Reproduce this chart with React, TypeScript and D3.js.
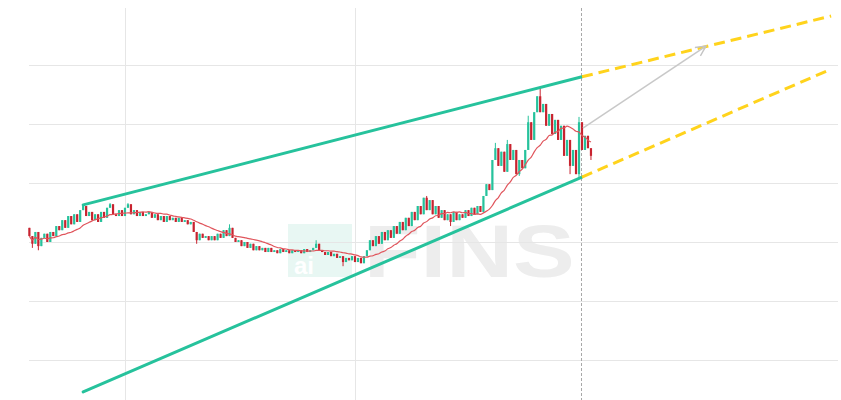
import { useEffect, useRef } from 'react';
import * as d3 from 'd3';

// closing prices, one per session (open = previous close)
const closes = [
  31.0, 29.7, 31.7, 29.3, 30.7, 31.4, 30.0, 31.7, 31.0, 32.7,
  32.0, 33.7, 32.4, 34.4, 33.0, 34.7, 33.4, 35.4, 36.1, 34.4,
  35.1, 33.7, 34.7, 33.4, 35.1, 34.1, 35.8, 36.4, 34.7, 34.4,
  35.4, 34.4, 35.8, 36.4, 34.7, 35.4, 34.4, 35.1, 34.4, 34.7,
  35.1, 34.1, 34.7, 33.7, 34.4, 33.4, 34.4, 33.7, 34.1, 33.4,
  34.1, 33.4, 33.7, 33.0, 33.4, 31.7, 30.3, 31.4, 30.7, 31.0,
  30.3, 31.0, 30.3, 31.4, 30.7, 32.0, 31.0, 32.4, 30.7, 30.0,
  30.3, 29.3, 30.0, 29.0, 29.7, 28.6, 29.3, 28.6, 29.0, 28.3,
  29.0, 28.3, 28.6, 28.1, 28.8, 28.3, 28.6, 28.1, 28.6, 28.3,
  28.6, 28.1, 28.8, 28.3, 28.6, 29.0, 29.7, 28.6, 28.3, 27.8,
  28.3, 27.6, 28.0, 27.3, 27.6, 26.6, 27.3, 26.9, 27.6, 26.6,
  27.3, 26.4, 27.6, 28.6, 30.3, 29.3, 31.0, 29.7, 31.7, 30.3,
  32.0, 30.7, 32.7, 31.4, 33.4, 32.0, 34.1, 32.7, 35.1, 33.7,
  36.1, 34.7, 37.5, 35.4, 37.1, 34.7, 36.1, 34.1, 35.4, 33.7,
  34.7, 33.4, 35.1, 33.7, 34.7, 34.1, 35.4, 34.4, 35.8, 34.7,
  36.1, 35.1, 37.8, 39.8, 38.8, 43.9, 45.9, 42.9, 45.3, 41.9,
  46.6, 43.9, 45.6, 41.5, 43.9, 42.5, 45.6, 50.3, 47.3, 52.0,
  54.7, 52.0, 53.4, 49.7, 51.7, 48.3, 50.7, 47.3, 49.7, 44.6,
  47.3, 42.9, 45.6, 41.5, 50.3, 45.6, 48.0, 45.9, 44.6,
];
const firstOpen = 32.4;

// visible wicks [session, price]
const highWicks: [number, number][] = [
  [18, 36.4], [27, 36.6], [33, 36.6], [67, 33.0], [96, 30.3], [133, 37.8],
  [156, 46.8], [160, 47.3], [167, 51.4], [171, 56.1], [175, 50.7], [184, 51.2],
];
const lowWicks: [number, number][] = [
  [1, 29.0], [3, 28.6], [56, 29.7], [105, 25.9], [141, 32.7], [164, 41.2], [181, 41.5], [184, 40.8], [188, 43.9],
];

const priceTicks = [10, 20, 30, 40, 50, 60];
const sessionTicks = [32, 109];
const markerSession = 185;
const maPeriod = 15;

// drawings [session, price]
const upperTrend: [number, number][] = [[18, 36.3], [185, 58.0]];
const lowerTrend: [number, number][] = [[18, 4.6], [185, 41.0]];
const upperProjection: [number, number][] = [[185, 58.0], [268.4, 68.3]];
const lowerProjection: [number, number][] = [[185, 41.0], [268.4, 59.3]];
const targetArrow: [number, number][] = [[185.3, 49.3], [226.5, 63.2]];

type Candle = { i: number; open: number; close: number; high: number; low: number };

export default function App() {
  const svgRef = useRef<SVGSVGElement | null>(null);

  useEffect(() => {
    const svgElement = svgRef.current;
    if (!svgElement) {
      return;
    }
    const width = 841;
    const height = 400;
    const svg = d3.select(svgElement);
    svg.selectAll('*').remove();
    svg.attr('viewBox', `0 0 ${width} ${height}`);

    const x = d3.scaleLinear().domain([0, 185]).range([29.4, 582]);
    const y = d3.scaleLinear().domain([10, 60]).range([360, 65]);

    const highMap = new Map(highWicks);
    const lowMap = new Map(lowWicks);
    const candles: Candle[] = closes.map((close, i) => {
      const open = i === 0 ? firstOpen : closes[i - 1]!;
      return {
        i,
        open,
        close,
        high: highMap.get(i) ?? Math.max(open, close),
        low: lowMap.get(i) ?? Math.min(open, close),
      };
    });
    const ma = closes.map((_, i) => {
      const win = closes.slice(Math.max(0, i - maPeriod + 1), i + 1);
      return { i, value: d3.mean(win)! };
    });

    const teal = '#26c29c';
    const red = '#c8232f';
    const yellow = '#ffd31c';

    // watermark
    const mark = svg.append('g').attr('class', 'watermark');
    mark.append('rect').attr('x', 288).attr('y', 224).attr('width', 64).attr('height', 53).attr('fill', '#e8f7f3');
    mark
      .append('text')
      .attr('x', 294)
      .attr('y', 274)
      .attr('fill', '#ffffff')
      .attr('font-family', 'Liberation Sans, Arial, sans-serif')
      .attr('font-weight', 700)
      .attr('font-size', 24)
      .text('ai');
    mark
      .append('text')
      .attr('transform', 'translate(364,277) scale(1.25,1)')
      .attr('fill', '#ededed')
      .attr('font-family', 'Liberation Sans, Arial, sans-serif')
      .attr('font-weight', 700)
      .attr('font-size', 74)
      .text('FINS');

    // grid
    const grid = svg.append('g').attr('class', 'grid');
    grid
      .selectAll('line.h')
      .data(priceTicks)
      .join('line')
      .attr('class', 'h')
      .attr('x1', 29)
      .attr('x2', 838)
      .attr('y1', (d) => Math.round(y(d)) + 0.5)
      .attr('y2', (d) => Math.round(y(d)) + 0.5)
      .attr('stroke', '#e6e6e6');
    grid
      .selectAll('line.v')
      .data(sessionTicks)
      .join('line')
      .attr('class', 'v')
      .attr('x1', (d) => Math.round(x(d)) + 0.5)
      .attr('x2', (d) => Math.round(x(d)) + 0.5)
      .attr('y1', 8)
      .attr('y2', height)
      .attr('stroke', '#e6e6e6');
    svg
      .append('line')
      .attr('x1', Math.round(x(markerSession)) - 0.5)
      .attr('x2', Math.round(x(markerSession)) - 0.5)
      .attr('y1', 8)
      .attr('y2', height)
      .attr('stroke', '#a8a8a8')
      .attr('stroke-width', 1)
      .attr('stroke-dasharray', '3 2');

    // candles
    const candleLayer = svg.append('g').attr('class', 'candles');
    const bodyWidth = 2.2;
    candleLayer
      .selectAll('line.wick')
      .data(candles)
      .join('line')
      .attr('class', 'wick')
      .attr('x1', (d) => x(d.i))
      .attr('x2', (d) => x(d.i))
      .attr('y1', (d) => y(d.high))
      .attr('y2', (d) => y(d.low))
      .attr('stroke', (d) => (d.close >= d.open ? teal : red))
      .attr('stroke-width', 1);
    candleLayer
      .selectAll('rect.body')
      .data(candles)
      .join('rect')
      .attr('class', 'body')
      .attr('x', (d) => x(d.i) - bodyWidth / 2)
      .attr('width', bodyWidth)
      .attr('y', (d) => y(Math.max(d.open, d.close)))
      .attr('height', (d) => Math.max(1, Math.abs(y(d.open) - y(d.close))))
      .attr('fill', (d) => (d.close >= d.open ? teal : red));

    const maLine = d3
      .line<{ i: number; value: number }>()
      .x((d) => x(d.i))
      .y((d) => y(d.value))
      .curve(d3.curveMonotoneX);
    svg
      .append('path')
      .attr('d', maLine(ma))
      .attr('fill', 'none')
      .attr('stroke', '#e0555c')
      .attr('stroke-width', 1.2);

    // drawings
    const seg = d3
      .line<[number, number]>()
      .x((d) => x(d[0]))
      .y((d) => y(d[1]));
    [upperTrend, lowerTrend].forEach((pts) => {
      svg.append('path').attr('d', seg(pts)).attr('fill', 'none').attr('stroke', teal).attr('stroke-width', 3).attr('stroke-linecap', 'round');
    });
    [upperProjection, lowerProjection].forEach((pts) => {
      svg
        .append('path')
        .attr('d', seg(pts))
        .attr('fill', 'none')
        .attr('stroke', yellow)
        .attr('stroke-width', 3)
        .attr('stroke-dasharray', '11 6');
    });

    const defs = svg.append('defs');
    defs
      .append('marker')
      .attr('id', 'arrow-head')
      .attr('viewBox', '0 0 12 12')
      .attr('refX', 11)
      .attr('refY', 6)
      .attr('markerWidth', 12)
      .attr('markerHeight', 12)
      .attr('markerUnits', 'userSpaceOnUse')
      .attr('orient', 'auto')
      .append('path')
      .attr('d', 'M1,1 L11,6 L1,11')
      .attr('fill', 'none')
      .attr('stroke', '#c4c4c4')
      .attr('stroke-width', 1.4);
    svg
      .append('path')
      .attr('d', seg(targetArrow))
      .attr('fill', 'none')
      .attr('stroke', '#c8c8c8')
      .attr('stroke-width', 1.5)
      .attr('marker-end', 'url(#arrow-head)');
  }, []);

  return (
    <svg
      ref={svgRef}
      width={841}
      height={400}
      style={{ position: 'fixed', left: 0, top: 0, background: '#ffffff' }}
      aria-label="Candlestick chart with rising wedge"
    />
  );
}
